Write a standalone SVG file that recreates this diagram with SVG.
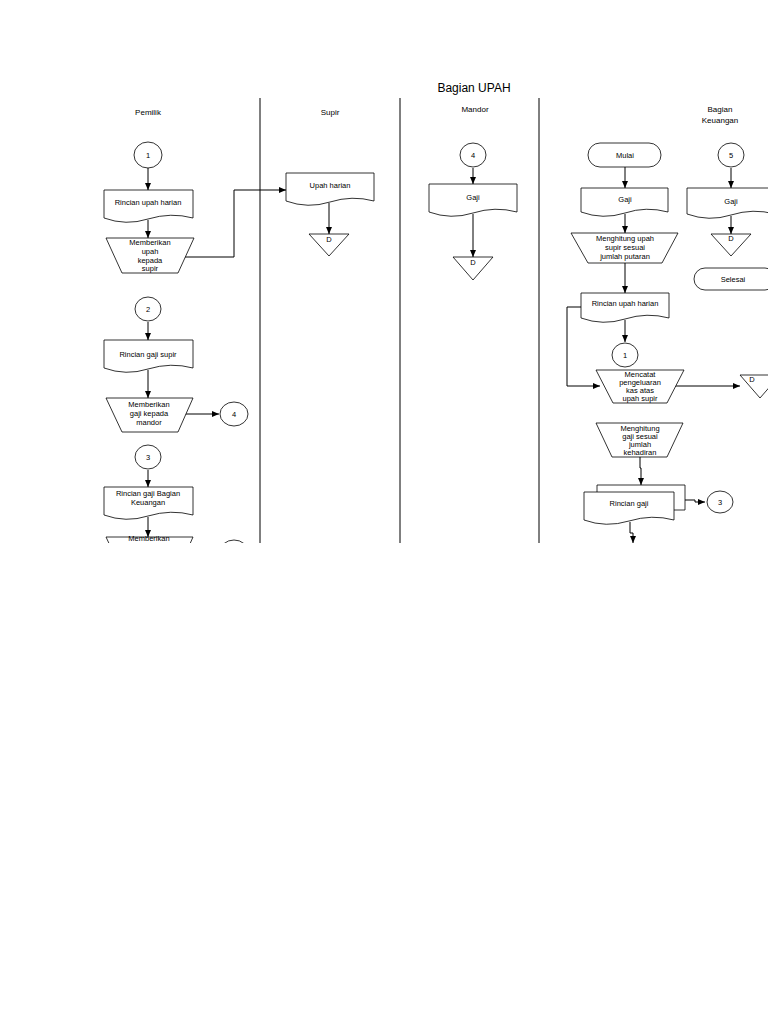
<svg xmlns="http://www.w3.org/2000/svg" width="768" height="1024" viewBox="0 0 768 1024">
<style>
.s{fill:#fff;stroke:#000;stroke-width:0.8}
.l{fill:none;stroke:#000;stroke-width:1}
text{font-family:"Liberation Sans",Arial,sans-serif;font-size:7.5px;text-anchor:middle;fill:#000}
.h{font-size:8px}
</style>
<defs>
<marker id="a" markerWidth="8" markerHeight="8" refX="7" refY="4" orient="auto" markerUnits="userSpaceOnUse"><path d="M0,1 L7,4 L0,7 z" fill="#000"/></marker>
<clipPath id="c"><rect x="0" y="0" width="768" height="543"/></clipPath>
</defs>
<rect width="768" height="1024" fill="#fff"/>
<g clip-path="url(#c)">
<text x="474" y="92" style="font-size:12px">Bagian UPAH</text>
<g id="lanes">
<line class="l" x1="260" y1="98" x2="260" y2="543"/>
<line class="l" x1="400" y1="98" x2="400" y2="543"/>
<line class="l" x1="539" y1="98" x2="539" y2="543"/>
<text class="h" x="148" y="115">Pemilik</text>
<text class="h" x="330" y="115">Supir</text>
<text class="h" x="475" y="112">Mandor</text>
<text class="h" x="720" y="112">Bagian</text>
<text class="h" x="720" y="123">Keuangan</text>
</g>
<g id="connectors" class="l">
<line x1="148" y1="168" x2="148" y2="190" marker-end="url(#a)"/>
<line x1="148" y1="220" x2="148" y2="238" marker-end="url(#a)"/>
<polyline points="184,257 234,257 234,190 286,190" marker-end="url(#a)"/>
<line x1="148" y1="322" x2="148" y2="340" marker-end="url(#a)"/>
<line x1="148" y1="370" x2="148" y2="398" marker-end="url(#a)"/>
<line x1="185" y1="414" x2="219" y2="414" marker-end="url(#a)"/>
<line x1="148" y1="470" x2="148" y2="487" marker-end="url(#a)"/>
<line x1="148" y1="517" x2="148" y2="537" marker-end="url(#a)"/>
<line x1="329" y1="203" x2="329" y2="234" marker-end="url(#a)"/>
<line x1="473" y1="168" x2="473" y2="184" marker-end="url(#a)"/>
<line x1="473" y1="214" x2="473" y2="257" marker-end="url(#a)"/>
<line x1="625" y1="167" x2="625" y2="188" marker-end="url(#a)"/>
<line x1="625" y1="214" x2="625" y2="233" marker-end="url(#a)"/>
<line x1="625" y1="263" x2="625" y2="293" marker-end="url(#a)"/>
<line x1="625" y1="320" x2="625" y2="342" marker-end="url(#a)"/>
<polyline points="581,307 567,307 567,386 600,386" marker-end="url(#a)"/>
<line x1="675" y1="386" x2="740" y2="386" marker-end="url(#a)"/>
<polyline points="640,457 640,468 641,468 641,485" marker-end="url(#a)"/>
<polyline points="685,500 695,500 695,502 705,502" marker-end="url(#a)"/>
<polyline points="630,522 630,533 633,533 633,543" marker-end="url(#a)"/>
<line x1="731" y1="168" x2="731" y2="188" marker-end="url(#a)"/>
<line x1="731" y1="216" x2="731" y2="234" marker-end="url(#a)"/>
</g>
<g id="p1"><ellipse class="s" cx="148" cy="155" rx="14" ry="13"/><text x="148" y="158">1</text></g>
<g id="p_doc1"><path class="s" d="M104,190 H193 V218 Q171,212 148,219 Q126,226 104,218 Z"/><text x="148" y="205">Rincian upah harian</text></g>
<g id="p_tr1"><path class="s" d="M106,238 H194 L178,273 H122 Z"/><text x="150" y="245">Memberikan</text><text x="150" y="254">upah</text><text x="150" y="263">kepada</text><text x="150" y="271">supir</text></g>
<g id="p2"><ellipse class="s" cx="148" cy="309" rx="13" ry="12"/><text x="148" y="312">2</text></g>
<g id="p_doc2"><path class="s" d="M104,340 H193 V368 Q171,362 148,369 Q126,376 104,368 Z"/><text x="148" y="357">Rincian gaji supir</text></g>
<g id="p_tr2"><path class="s" d="M106,398 H193 L178,432 H122 Z"/><text x="149" y="407">Memberikan</text><text x="149" y="416">gaji kepada</text><text x="149" y="425">mandor</text></g>
<g id="p4out"><ellipse class="s" cx="234" cy="414" rx="14" ry="12"/><text x="234" y="417">4</text></g>
<g id="p3"><ellipse class="s" cx="148" cy="457" rx="13" ry="12"/><text x="148" y="460">3</text></g>
<g id="p_doc3"><path class="s" d="M104,487 H193 V515 Q171,509 148,516 Q126,523 104,515 Z"/><text x="148" y="496">Rincian gaji  Bagian</text><text x="148" y="505">Keuangan</text></g>
<g id="p_tr3"><path class="s" d="M106,537 H193 L178,571 H122 Z"/><text x="149" y="541">Memberikan</text></g>
<g id="p_c"><ellipse class="s" cx="234" cy="552" rx="14" ry="12"/></g>
<g id="s_doc"><path class="s" d="M286,173 H374 V201 Q352,195 330,202 Q308,209 286,201 Z"/><text x="330" y="188">Upah harian</text></g>
<g id="s_D"><path class="s" d="M309,234 H349 L329,256 Z"/><text x="329" y="242">D</text></g>
<g id="m4"><ellipse class="s" cx="473" cy="155" rx="13" ry="12"/><text x="473" y="158">4</text></g>
<g id="m_doc"><path class="s" d="M429,184 H517 V212 Q495,206 473,213 Q451,220 429,212 Z"/><text x="473" y="200">Gaji</text></g>
<g id="m_D"><path class="s" d="M453,257 H493 L473,280 Z"/><text x="473" y="265">D</text></g>
<g id="k_mulai"><rect class="s" x="588" y="143" width="73" height="24" rx="12"/><text x="625" y="158">Mulai</text></g>
<g id="k_gaji"><path class="s" d="M581,188 H668 V212 Q646,206 625,213 Q603,220 581,212 Z"/><text x="625" y="202">Gaji</text></g>
<g id="k_tr1"><path class="s" d="M571,233 H678 L662,263 H588 Z"/><text x="625" y="241">Menghitung upah</text><text x="625" y="250">supir sesuai</text><text x="625" y="259">jumlah putaran</text></g>
<g id="k_doc"><path class="s" d="M581,293 H669 V318 Q647,312 625,319 Q603,326 581,318 Z"/><text x="625" y="306">Rincian upah harian</text></g>
<g id="k1"><ellipse class="s" cx="625" cy="355" rx="13" ry="12"/><text x="625" y="358">1</text></g>
<g id="k_tr2"><path class="s" d="M596,370 H684 L667,403 H613 Z"/><text x="640" y="377">Mencatat</text><text x="640" y="385">pengeluaran</text><text x="640" y="393">kas atas</text><text x="640" y="401">upah supir</text></g>
<g id="k_D"><path class="s" d="M740,375 H780 L760,398 Z"/><text x="752" y="382">D</text></g>
<g id="k_tr3"><path class="s" d="M596,423 H683 L667,457 H612 Z"/><text x="640" y="431">Menghitung</text><text x="640" y="439">gaji sesuai</text><text x="640" y="447">jumlah</text><text x="640" y="455">kehadiran</text></g>
<g id="k_multi"><path class="s" d="M597,485 H685 V510 H597 Z"/><path class="s" d="M584,492 H674 V520 Q652,514 629,521 Q606,528 584,520 Z"/><text x="629" y="506">Rincian gaji</text></g>
<g id="k3"><ellipse class="s" cx="720" cy="502" rx="13" ry="11"/><text x="720" y="505">3</text></g>
<g id="k5"><ellipse class="s" cx="731" cy="155" rx="13" ry="12"/><text x="731" y="158">5</text></g>
<g id="k_gaji2"><path class="s" d="M687,188 H775 V214 Q753,208 731,215 Q709,222 687,214 Z"/><text x="731" y="204">Gaji</text></g>
<g id="k_D2"><path class="s" d="M711,234 H751 L731,256 Z"/><text x="731" y="241">D</text></g>
<g id="k_selesai"><rect class="s" x="694" y="268" width="82" height="22" rx="11"/><text x="733" y="282">Selesai</text></g>
</g>
</svg>
